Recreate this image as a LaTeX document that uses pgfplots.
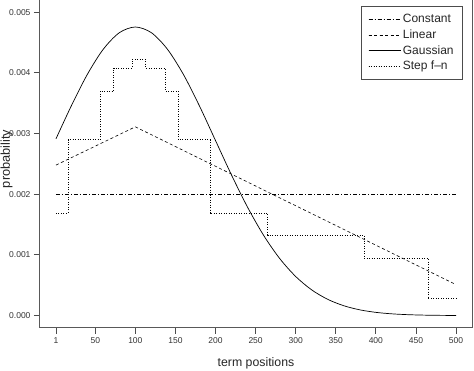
\documentclass[border=0pt]{standalone}
\usepackage{fontspec}
\setmainfont{Liberation Sans}
\usepackage{pgfplots}
\pgfplotsset{compat=1.18}
\begin{document}
\begin{tikzpicture}
\path[use as bounding box] (-40pt,-42.3pt) rectangle (434pt,327.7pt);
\begin{axis}[
  scale only axis,
  width=432pt, height=327.7pt,
  xmin=-18.96, xmax=519.96,
  ymin=-0.0002, ymax=0.0052,
  axis x line*=bottom, axis y line*=box,
  axis line style={black!65, line width=1pt},
  tick align=outside,
  major tick length=6pt,
  tick style={black!70, line width=0.8pt},
  xtick={1,50,100,150,200,250,300,350,400,450,500},
  ytick={0,0.001,0.002,0.003,0.004,0.005},
  xtick pos=bottom, ytick pos=left,
  scaled y ticks=false,
  /pgf/number format/assume math mode=true,
  yticklabel style={/pgf/number format/.cd, fixed, fixed zerofill, precision=3, /tikz/.cd, font=\fontsize{8.5}{10}\selectfont, text=black!80},
  xticklabel style={font=\fontsize{8.5}{10}\selectfont, text=black!80},
  xlabel={term positions},
  ylabel={probability},
  xlabel style={yshift=-7pt, font=\fontsize{12.3}{14}\selectfont, text=black!85},
  every axis y label/.style={at={(axis description cs:-0.0914,0.515)}, rotate=90, anchor=north, inner sep=0pt, font=\fontsize{12.8}{14}\selectfont, text=black!85},
  legend cell align=left,
  legend style={at={(1,1)}, anchor=north east, xshift=-9pt, yshift=-6pt,
    draw=black!70, line width=0.8pt, font=\fontsize{12}{14}\selectfont,
    inner xsep=7pt, inner ysep=6pt, row sep=1.5pt, text=black!85},
  legend image code/.code={\draw[#1, line width=0.6pt] (0pt,0pt) -- (21pt,0pt); \path (0pt,0pt) -- (32pt,0pt);},
]
\addplot[black, line width=0.6pt, dash pattern=on 4pt off 2pt on 1pt off 2pt] coordinates {(1,0.002) (500,0.002)};
\addlegendentry{Constant}
\addplot[black, line width=0.6pt, dash pattern=on 3pt off 2.5pt] coordinates {(1,0.00248) (100,0.00311) (500,0.00051)};
\addlegendentry{Linear}
\addplot[black, line width=0.7pt, smooth] coordinates {
(1,0.002913) (20,0.003453) (40,0.003972) (60,0.004389) (80,0.004661) (100,0.004755)
(120,0.004661) (140,0.004389) (160,0.003972) (180,0.003453) (200,0.002884)
(220,0.002315) (240,0.001785) (260,0.001322) (280,0.000941) (300,0.000644)
(320,0.000423) (340,0.000267) (360,0.000162) (380,0.0000943) (400,0.0000528)
(420,0.0000284) (440,0.0000147) (460,0.0000073) (480,0.0000035) (500,0.0000016)};
\addlegendentry{Gaussian}
\addplot[black, line width=0.6pt, dash pattern=on 1pt off 1.5pt, const plot] coordinates {
(1,0.00169) (16,0.0029) (56.5,0.0037) (73,0.00408) (96,0.00422) (113,0.00408)
(137,0.0037) (153.5,0.0029) (193,0.00169) (265,0.00133) (385,0.00095) (465,0.00028) (500,0.00028)};
\addlegendentry{Step f--n}
\end{axis}
\end{tikzpicture}
\end{document}
